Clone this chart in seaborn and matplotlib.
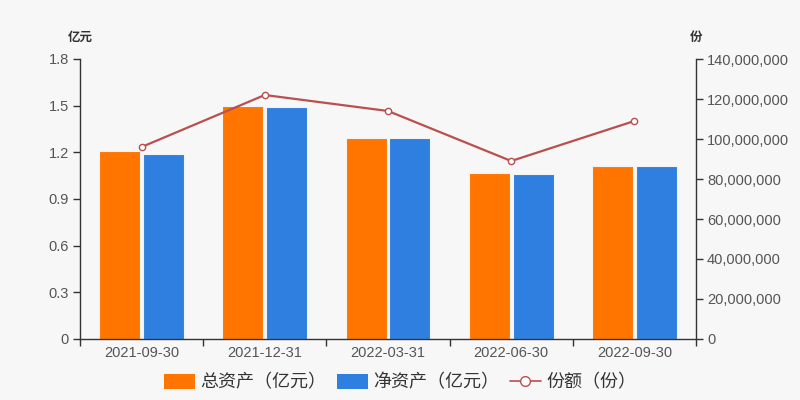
import matplotlib
matplotlib.use('Agg')
import matplotlib.pyplot as plt
import seaborn as sns
import pandas as pd
from matplotlib.lines import Line2D
from matplotlib.patches import FancyBboxPatch, Patch
from matplotlib.ticker import FuncFormatter

dates = ['2021-09-30', '2021-12-31', '2022-03-31', '2022-06-30', '2022-09-30']
total_assets = [1.21, 1.50, 1.29, 1.07, 1.11]
net_assets = [1.19, 1.49, 1.29, 1.06, 1.11]
shares = [96000000, 122000000, 114000000, 89000000, 109000000]

labels = ['总资产（亿元）', '净资产（亿元）', '份额（份）']
colors = ['#ff7500', '#2e7fe0', '#b9504e']

sns.set_theme(style='white')
plt.rcParams['font.family'] = ['Liberation Sans', 'Noto Sans CJK SC', 'DejaVu Sans']
bg = '#f7f7f7'

df = pd.DataFrame({
    'date': dates * 2,
    'value': total_assets + net_assets,
    'series': [labels[0]] * 5 + [labels[1]] * 5,
})

fig = plt.figure(figsize=(8, 4), dpi=100, facecolor=bg)
ax = fig.add_axes([0.1, 0.1525, 0.77, 0.7])
ax.set_facecolor(bg)

sns.barplot(data=df, x='date', y='value', hue='series', palette=colors[:2],
            saturation=1, width=0.71, gap=0.06, ax=ax, legend=False,
            edgecolor='#f3f3f3', linewidth=0.8)

ax2 = ax.twinx()
sns.lineplot(x=list(range(5)), y=shares, ax=ax2, color=colors[2], linewidth=1.6,
             marker='o', markersize=4.5, markerfacecolor='white',
             markeredgecolor=colors[2], markeredgewidth=1)

ax.set_xlim(-0.5, 4.5)
ax.set_ylim(0, 1.8)
ax.set_yticks([0, 0.3, 0.6, 0.9, 1.2, 1.5, 1.8])
ax.set_yticklabels(['0', '0.3', '0.6', '0.9', '1.2', '1.5', '1.8'])
ax2.set_ylim(0, 140000000)
ax2.set_yticks(range(0, 140000001, 20000000))
ax2.yaxis.set_major_formatter(FuncFormatter(lambda v, p: f'{int(v):,}'))

ax.set_xlabel('')
ax.set_ylabel('')
ax2.set_ylabel('')

for a in (ax, ax2):
    for s in a.spines.values():
        s.set_visible(False)
ax.spines['left'].set_visible(True)
ax.spines['bottom'].set_visible(True)
ax2.spines['right'].set_visible(True)
for s in (ax.spines['left'], ax.spines['bottom'], ax2.spines['right']):
    s.set_color('#333333')
    s.set_linewidth(1)

ax.tick_params(axis='y', length=5, width=1, color='#333333', labelsize=10.5, labelcolor='#555555', left=True, pad=3)
ax2.tick_params(axis='y', length=5, width=1, color='#333333', labelsize=10.5, labelcolor='#555555', right=True, pad=3)
ax.set_xticks(range(5))
ax.set_xticklabels(dates)
ax.tick_params(axis='x', length=0, labelsize=10.5, labelcolor='#555555', pad=5)
# tick marks between categories
ax.set_xticks([i - 0.5 for i in range(6)], minor=True)
ax.tick_params(axis='x', which='minor', length=5, width=1, color='#333333', bottom=True)

fig.text(0.1, 0.905, '亿元', ha='center', va='center', fontsize=9, fontweight='bold', color='#333333')
fig.text(0.87, 0.905, '份', ha='center', va='center', fontsize=9, fontweight='bold', color='#333333')

handles = [
    Patch(facecolor=colors[0], edgecolor='none'),
    Patch(facecolor=colors[1], edgecolor='none'),
    Line2D([0], [0], color=colors[2], marker='o', markerfacecolor='white', markersize=7, linewidth=1.2),
]
fig.legend(handles, labels, loc='lower center', bbox_to_anchor=(0.5, -0.02), ncol=3,
           frameon=False, fontsize=13, handlelength=1.7, handleheight=0.85,
           columnspacing=0.6, handletextpad=0.3, labelcolor='#333333')

fig.savefig('out.png', dpi=100, facecolor=bg)
